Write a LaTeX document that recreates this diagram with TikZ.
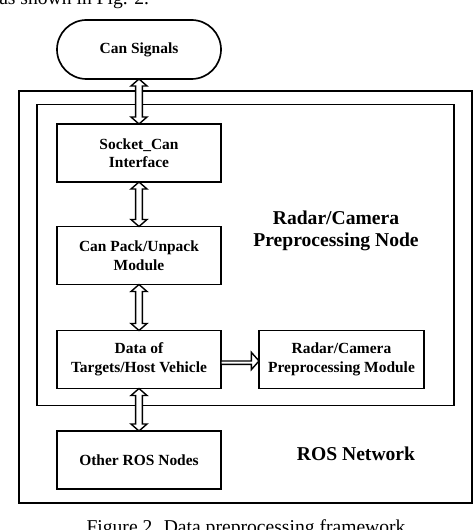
\documentclass[tikz,border=0pt]{standalone}
\usepackage{fontspec}
\setmainfont{Liberation Serif}
\usetikzlibrary{calc,shapes.misc}

% hollow block arrows between two named nodes
\newcommand{\dblarrow}[2]{%
  \draw[blockarr] let \p1=(#1.south), \p2=(#2.north) in
    (\x1,\y1) -- (\x1-6pt,\y1-5.25pt) -- (\x1-2.5pt,\y1-5.25pt)
    -- (\x1-2.5pt,\y2+5.25pt) -- (\x1-6pt,\y2+5.25pt) -- (\x1,\y2)
    -- (\x1+6pt,\y2+5.25pt) -- (\x1+2.5pt,\y2+5.25pt)
    -- (\x1+2.5pt,\y1-5.25pt) -- (\x1+6pt,\y1-5.25pt) -- cycle;}
\newcommand{\rarrow}[2]{%
  \draw[blockarr] let \p1=(#1.east), \p2=(#2.west) in
    (\x1,\y1-1.1pt) -- (\x2-5.75pt,\y1-1.1pt) -- (\x2-5.75pt,\y1+5.4pt)
    -- (\x2,\y1-1.1pt) -- (\x2-5.75pt,\y1-7.6pt) -- (\x2-5.75pt,\y1-3.6pt)
    -- (\x1,\y1-3.6pt) -- cycle;}

\begin{document}
\begin{tikzpicture}[x=0.75pt, y=-0.75pt, line join=miter,
    box/.style={draw, line width=1.25pt, inner sep=0pt, outer sep=0pt,
      minimum width=123pt, minimum height=43.5pt, align=center,
      font=\fontsize{11.6}{13.9}\selectfont\bfseries},
    frame/.style={draw, line width=1.35pt, inner sep=0pt, outer sep=0pt},
    title/.style={align=center, font=\fontsize{14.7}{17}\selectfont\bfseries},
    blockarr/.style={draw, fill=white, line width=1.05pt}]
  \useasboundingbox (0,0) rectangle (474,530);
  % page text cut by the crop
  \node[overlay, anchor=base west, inner sep=0pt, font=\fontsize{14.7}{17}\selectfont]
    (ref) at (-1,5) {as shown in Fig. 2.};
  \node[overlay, anchor=base, inner sep=0pt, font=\fontsize{14.7}{17}\selectfont]
    (cap) at (246,533) {Figure 2. Data preprocessing framework};
  % frames
  \node[frame, minimum width=339.5pt, minimum height=309.2pt] (ros) at (245.35,296.85) {};
  \node[frame, minimum width=312.75pt, minimum height=225.75pt] (inner) at (245.5,255) {};
  \node[title] (nodetitle) at (336,231) {Radar/Camera\\Preprocessing Node};
  \node[title] (rostitle) at (356,454) {ROS Network};
  % boxes
  \node[box, shape=rounded rectangle, minimum height=44.25pt] (sig) at (139,49.5) {Can Signals};
  \node[box] (sock) at (139,153) {Socket\_Can\\Interface};
  \node[box] (pack) at (139,255.5) {Can Pack/Unpack\\Module};
  \node[box] (data) at (139,359.5) {Data of\\Targets/Host Vehicle};
  \node[box, minimum width=123.75pt] (prep) at (341.5,359.5) {Radar/Camera\\Preprocessing Module};
  \node[box] (other) at (139,460) {Other ROS Nodes};
  % arrows
  \dblarrow{sig}{sock}
  \dblarrow{sock}{pack}
  \dblarrow{pack}{data}
  \dblarrow{data}{other}
  \rarrow{data}{prep}
\end{tikzpicture}
\end{document}
